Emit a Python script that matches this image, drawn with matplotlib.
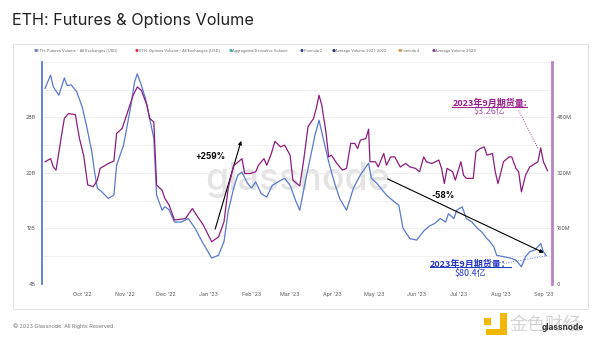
import pandas as pd
import matplotlib
matplotlib.use("Agg")
import matplotlib.pyplot as plt
import matplotlib.dates as mdates
from matplotlib.patches import Rectangle
from matplotlib.lines import Line2D

plt.rcParams["font.family"] = ["Inter", "DejaVu Sans"]
CJK = ["Noto Sans CJK SC", "DejaVu Sans"]

start = pd.Timestamp("2022-09-04")

# futures volume, billions USD (left axis), days since start
fut_day = [0, 4, 6, 10, 12, 14, 16, 19, 23, 27, 30, 34, 36, 38, 41, 46, 50, 52, 57, 62,
           65, 67, 70, 73, 76, 79, 81, 85, 87, 90, 94, 99, 104, 109, 114, 119, 121, 126, 130, 133,
           137, 140, 143, 147, 150, 153, 157, 161, 165, 171, 174, 178, 182, 185, 189, 193, 196, 199, 202, 206,
           210, 214, 219, 224, 229, 235, 237, 241, 245, 248, 252, 257, 260, 265, 270, 275, 279, 283, 287, 291,
           293, 297, 299, 303, 306, 310, 314, 317, 321, 323, 326, 328, 333, 338, 342, 346, 349, 352, 356, 360,
           362, 364]
fut_vol = [32.2, 34.1, 32.4, 31.2, 32.4, 33.7, 32.6, 32.7, 31.7, 29.5, 26.9, 23.0, 20.1, 17.8, 17.3, 16.3, 16.8, 21.1, 24.0, 29.3,
           33.1, 34.3, 32.6, 30.7, 27.8, 25.0, 16.8, 14.6, 15.1, 14.7, 12.9, 12.9, 13.4, 12.0, 10.1, 8.4, 7.7, 8.1, 10.1, 14.4,
           17.8, 19.7, 20.1, 18.5, 17.8, 18.7, 17.0, 16.5, 18.2, 18.9, 19.2, 18.2, 16.0, 14.6, 18.7, 22.5, 25.4, 27.6, 25.0, 21.6,
           18.7, 16.3, 14.6, 17.8, 19.7, 21.4, 19.2, 18.5, 17.5, 16.8, 16.1, 15.3, 12.0, 10.5, 10.3, 11.6, 12.3, 12.7, 13.4, 12.9,
           14.1, 13.4, 14.6, 15.1, 13.4, 12.9, 12.0, 11.5, 10.5, 10.1, 9.3, 8.1, 7.9, 7.7, 7.4, 6.45, 7.9, 8.6, 8.9, 9.8,
           8.6, 8.04]

# options volume, millions USD (right axis)
opt_day = [0, 4, 6, 8, 12, 14, 17, 22, 25, 28, 31, 35, 38, 40, 46, 50, 52, 56, 60, 64,
           67, 70, 74, 76, 79, 81, 85, 87, 90, 94, 102, 107, 110, 115, 121, 126, 130, 133, 137, 139,
           143, 145, 149, 153, 155, 159, 161, 164, 167, 171, 174, 178, 180, 185, 188, 191, 195, 197, 199, 201,
           204, 206, 208, 212, 216, 219, 222, 225, 227, 229, 233, 235, 236, 240, 242, 246, 248, 251, 254, 258,
           262, 265, 269, 272, 275, 277, 281, 286, 288, 290, 292, 296, 298, 302, 304, 306, 311, 313, 316, 319,
           321, 325, 327, 329, 333, 337, 339, 342, 344, 346, 349, 352, 356, 358, 360, 362, 365]
opt_vol = [352, 361, 337, 328, 429, 477, 491, 488, 419, 371, 285, 280, 299, 333, 347, 354, 434, 448, 496, 544,
           568, 558, 515, 477, 467, 285, 270, 246, 228, 184, 188, 217, 198, 169, 121, 135, 179, 275, 342, 347,
           361, 318, 318, 323, 342, 361, 342, 371, 411, 395, 400, 371, 299, 282, 361, 453, 477, 506, 544, 515,
           438, 366, 371, 347, 328, 333, 405, 405, 390, 414, 419, 446, 352, 352, 337, 376, 342, 366, 366, 337,
           347, 337, 333, 323, 366, 352, 347, 357, 333, 289, 333, 323, 299, 352, 313, 304, 304, 381, 390, 395,
           371, 376, 323, 289, 352, 366, 366, 333, 323, 265, 313, 337, 347, 352, 392, 352, 326]

left_ticks = [4, 12, 20, 28]
right_ticks = [0, 160, 320, 480]

legend_labels = ["ETH: Futures Volume - All Exchanges [USD]", "ETH: Options Volume - All Exchanges [USD]",
                 "Aggregated Derivative Volume", "Formula 2", "Average Volume 2021-2022",
                 "Formula 4", "Average Volume 2023"]
legend_colors = ["#5b7bd5", "#d4244a", "#2fae9a", "#2b3aa8", "#1d2a6b", "#e8902c", "#7d3a8c"]
legend_x = [35, 136.7, 230, 301.7, 333, 399, 433]

BLUE = "#5a79cf"
PURPLE = "#8c1c80"

fut_dates = start + pd.to_timedelta(fut_day, unit="D")
opt_dates = start + pd.to_timedelta(opt_day, unit="D")

W, H = 600, 345
fig = plt.figure(figsize=(6, 3.45), dpi=100)
fig.patch.set_facecolor("white")


def fx(px):
    return px / W


def fy(py):
    return 1 - py / H


fig.add_artist(Rectangle((fx(13), fy(309)), fx(588) - fx(13), fy(44) - fy(309),
                         transform=fig.transFigure, fill=False, ec="#e4e4e4", lw=0.8))
fig.text(fx(12), fy(20), "ETH: Futures & Options Volume", fontsize=11.7, color="#222222", va="center")
fig.text(fx(13), fy(326), "© 2023 Glassnode. All Rights Reserved.", fontsize=3.9, color="#777777", va="center")

for lab, col, x in zip(legend_labels, legend_colors, legend_x):
    fig.text(fx(x), fy(51), "●", fontsize=3.0, color=col, va="center", ha="center")
    fig.text(fx(x + 2.3), fy(51), lab, fontsize=2.8, color="#666666", va="center")

ax = fig.add_axes([fx(42.3), fy(283.7), fx(551.7) - fx(42.3), fy(62) - fy(283.7)])
ax2 = ax.twinx()

ax.text(0.502, 0.47, "glassnode", transform=ax.transAxes, fontsize=27, color="#e4e4e4",
        ha="center", va="center", zorder=0, fontweight="medium")

ax.plot(fut_dates, fut_vol, color=BLUE, lw=0.9, zorder=2)
ax2.plot(opt_dates, opt_vol, color=PURPLE, lw=0.9, zorder=2)

ax.set_xlim(start - pd.Timedelta(days=2), start + pd.Timedelta(days=368))
ax.set_ylim(4, 36)
ax2.set_ylim(0, 640)

ax.set_yticks(range(4, 37, 4))
ax.set_yticklabels([f"{v}B" if v in left_ticks else "" for v in range(4, 37, 4)])
ax2.set_yticks(right_ticks)
ax2.set_yticklabels(["0" if v == 0 else f"{v}M" for v in right_ticks])

months = pd.date_range("2022-10-01", "2023-09-01", freq="MS")
ax.set_xticks(months)
ax.xaxis.set_major_formatter(mdates.DateFormatter("%b '%y"))

ax.grid(axis="y", color="#ececec", lw=0.6)
ax.set_axisbelow(True)
ax.tick_params(axis="y", length=0, labelsize=3.8, colors="#555555", pad=4.5)
ax.tick_params(axis="x", length=0, labelsize=3.8, colors="#555555", pad=6)
ax2.tick_params(axis="y", length=0, labelsize=3.8, colors="#555555", pad=3.5)

for a in (ax, ax2):
    for s in ("top", "bottom"):
        a.spines[s].set_visible(False)
ax.spines["right"].set_visible(False)
ax2.spines["left"].set_visible(False)
ax.spines["left"].set_color(BLUE)
ax.spines["left"].set_linewidth(1.3)
ax2.spines["right"].set_color("#b983c9")
ax2.spines["right"].set_linewidth(2)

# growth / decline arrows on the futures series
ax.annotate("", xy=(start + pd.Timedelta(days=143), 25.0), xytext=(start + pd.Timedelta(days=123), 11.5),
            arrowprops=dict(arrowstyle="-|>", color="black", lw=0.8, mutation_scale=5), zorder=4)
ax.text(start + pd.Timedelta(days=120), 22.3, "+259%", fontsize=6, fontweight="bold", ha="center", va="center")
ax.annotate("", xy=(start + pd.Timedelta(days=364), 8.3), xytext=(start + pd.Timedelta(days=247), 19.3),
            arrowprops=dict(arrowstyle="-|>", color="black", lw=0.8, mutation_scale=5), zorder=4)
ax.text(start + pd.Timedelta(days=289), 16.8, "-58%", fontsize=6, fontweight="bold", ha="center", va="center")

# end-of-period callouts
ax.plot([start + pd.Timedelta(days=333), fut_dates[-1]], [6.9, fut_vol[-1]],
        color=BLUE, lw=0.7, ls=(0, (1, 1.5)), zorder=3)
t1 = ax.text(start + pd.Timedelta(days=309), 6.85, "2023年9月期货量：", family=CJK, fontsize=6.5,
             fontweight="bold", color="#2436c4", ha="center", va="center")
ax.text(start + pd.Timedelta(days=309), 5.5, "$80.4亿", family=CJK, fontsize=6.5,
        color="#2436c4", ha="center", va="center")

ax2.plot([start + pd.Timedelta(days=344), start + pd.Timedelta(days=358)], [500, 390],
         color="#a0509a", lw=0.7, ls=(0, (1, 1.5)), zorder=3)
t2 = ax2.text(start + pd.Timedelta(days=323), 520, "2023年9月期货量:", family=CJK, fontsize=6.5,
              fontweight="bold", color="#9a1c8c", ha="center", va="center")
ax2.text(start + pd.Timedelta(days=323), 496, "$3.26亿", family=CJK, fontsize=6.5,
         color="#a858a4", ha="center", va="center")

fig.canvas.draw()
for t, col in ((t1, "#2436c4"), (t2, "#9a1c8c")):
    bb = t.get_window_extent().transformed(fig.transFigure.inverted())
    fig.add_artist(Line2D([bb.x0, bb.x1], [bb.y0 + 0.004, bb.y0 + 0.004],
                          transform=fig.transFigure, color=col, lw=0.7))

# source marks in the lower right corner
fig.add_artist(Rectangle((fx(484), fy(325)), fx(7), fy(318) - fy(325), transform=fig.transFigure,
                         color="#f2b705", lw=0))
fig.add_artist(Rectangle((fx(500), fy(335)), fx(7), fy(313) - fy(335), transform=fig.transFigure,
                         color="#f2b705", lw=0))
fig.add_artist(Rectangle((fx(486), fy(335)), fx(21), fy(329) - fy(335), transform=fig.transFigure,
                         color="#f2b705", lw=0))
fig.text(fx(545), fy(325), "金色财经", family=CJK, fontsize=13, color="#d4d4d4", ha="center", va="center")
fig.text(fx(563), fy(327), "glassnode", fontsize=6, color="#333333", ha="center", va="center",
         fontweight="bold")

fig.savefig("out.png", dpi=100)
